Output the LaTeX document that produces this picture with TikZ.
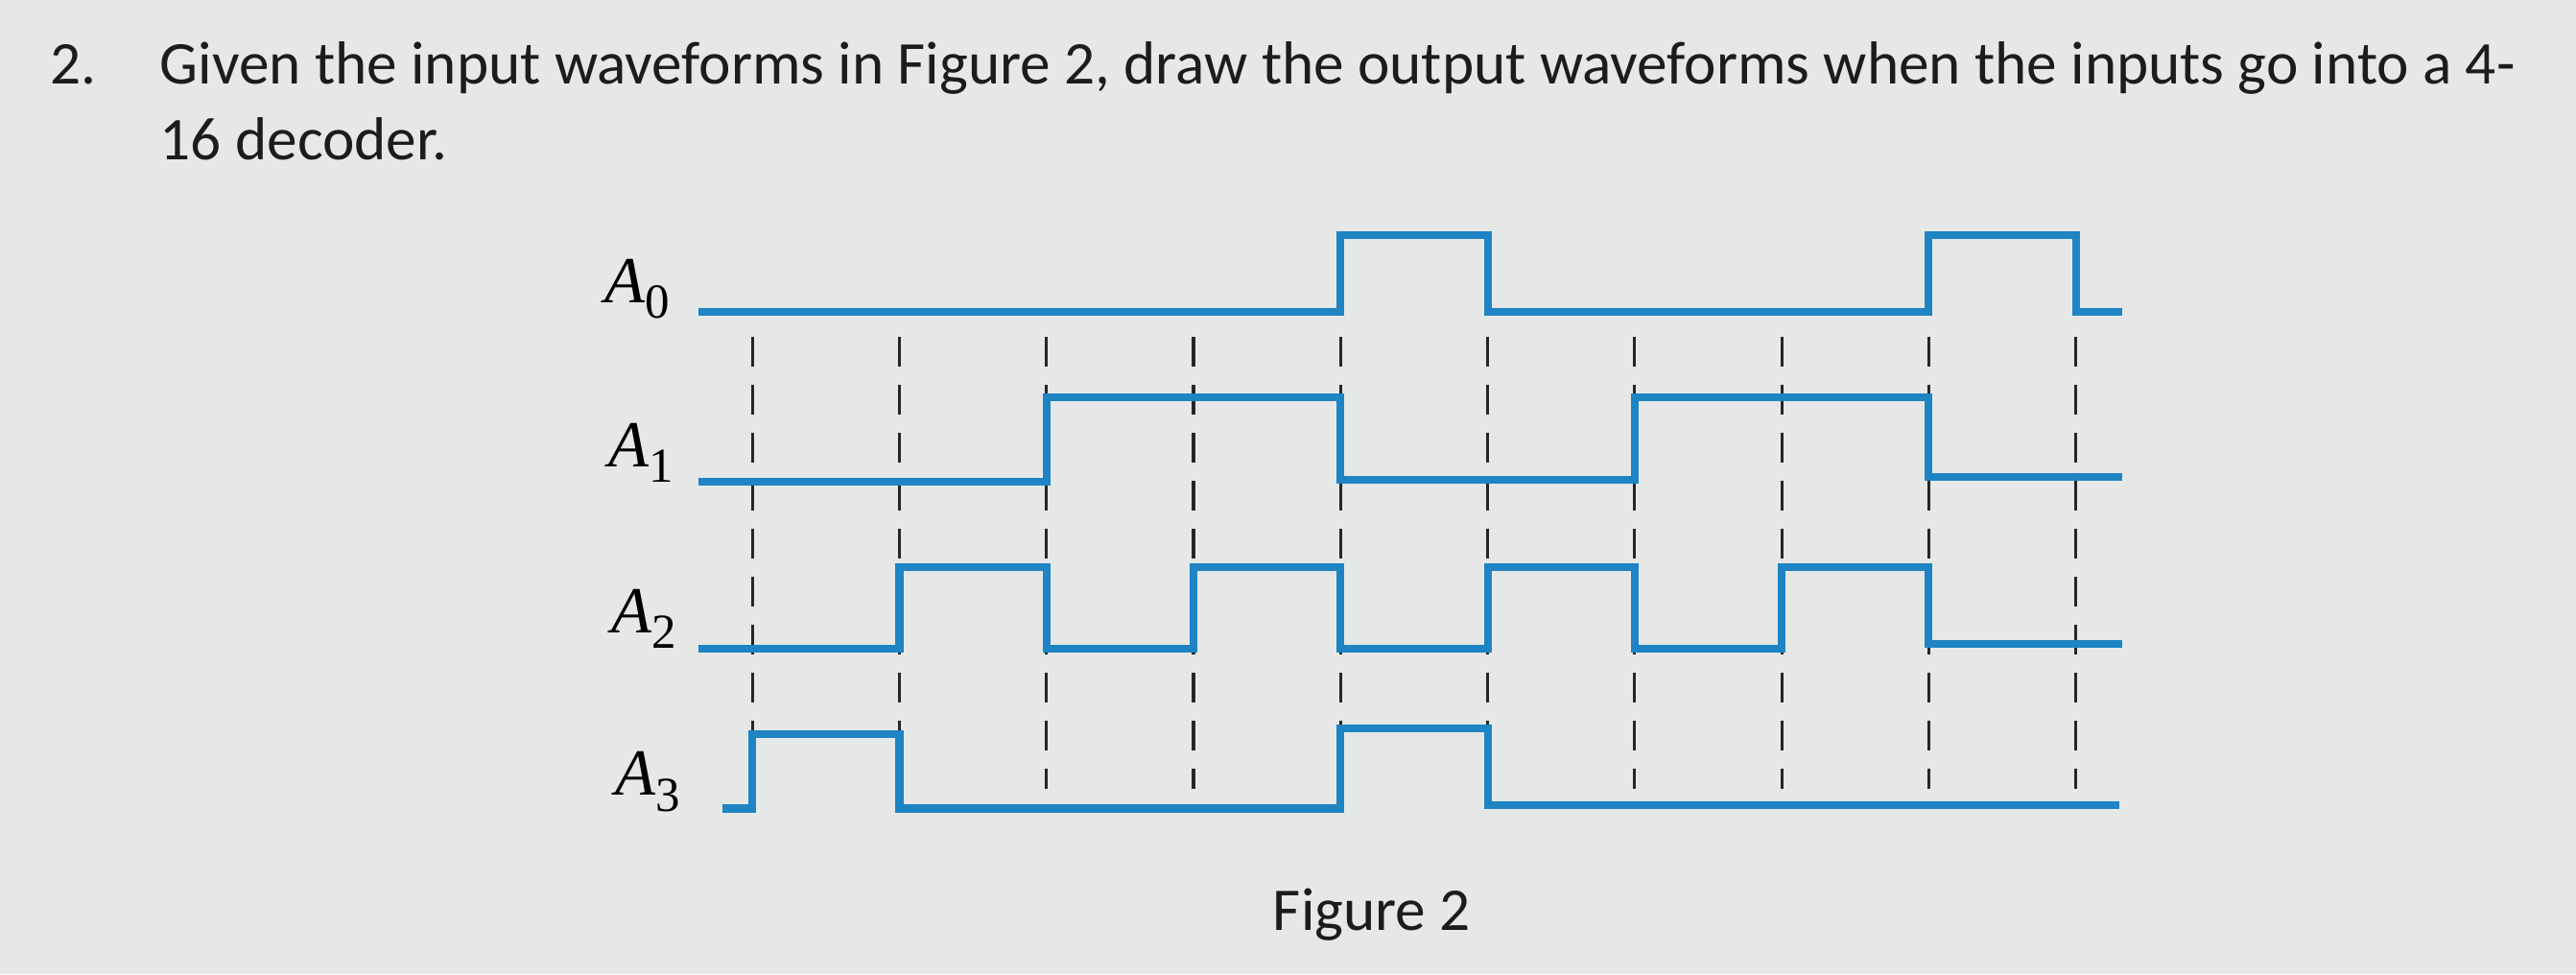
\documentclass[tikz,border=0pt]{standalone}
\usepackage{fontspec}
\setmainfont{Carlito}
\newfontfamily\timesf{Liberation Serif}
\definecolor{sigblue}{RGB}{30,132,196}
\definecolor{paper}{RGB}{229,232,231}
\definecolor{ink}{RGB}{28,28,28}
\newcommand\sigA[1]{{\timesf\itshape A}\raisebox{-0.5ex}{\timesf\fontsize{14.5}{14.5}\selectfont #1}}

\begin{document}
\begin{tikzpicture}[
        x=0.017124cm, y=-0.017124cm,
        sig/.style   ={draw=sigblue, line width=2.3pt},
        slot/.style  ={draw=black!85, line width=0.9pt, dash pattern=on 0.31cm off 0.19cm},
        lbl/.style   ={anchor=base west, inner sep=0pt, font=\fontsize{19.5}{19.5}\selectfont},
        txt/.style   ={anchor=base west, inner sep=0pt, text=ink, font=\fontsize{18}{21}\selectfont}
    ]
    %-----------------  Hoja de fondo  --------------------
    \fill[paper] (0,0) rectangle (1568,593);

    %-----------------  Enunciado  --------------------
    \node[txt] (qnum)   at (30,51)  {2.};
    \node[txt] (qline1) at (97,51)  {Given the input waveforms in Figure 2, draw the output waveforms when the inputs go into a 4-};
    \node[txt] (qline2) at (97,97)  {16 decoder.};

    %-----------------  Nombres de las entradas  --------------------
    \node[lbl] (lab0) at (368,184) {\sigA{0}};
    \node[lbl] (lab1) at (370,284) {\sigA{1}};
    \node[lbl] (lab2) at (372,385) {\sigA{2}};
    \node[lbl] (lab3) at (374,484) {\sigA{3}};

    %-----------------  Lineas de tiempo discontinuas  --------------------
    \foreach \i in {0,...,9}
        \draw[slot] (458+89.5*\i,205) -- (458+89.5*\i,480);

    %-----------------  Formas de onda  --------------------
    \draw[sig] (425,190) -| (816,143) -| (905.5,190) -| (1174,143) -| (1263.5,190) -- (1292,190);
    \draw[sig] (425,293) -| (637,242) -| (816,292) -| (995,242) -| (1174,290) -- (1292,290);
    \draw[sig] (425,395) -| (547.5,345) -| (637,395) -| (726.5,345) -| (816,395)
                         -| (905.5,345) -| (995,395) -| (1084.5,345) -| (1174,392) -- (1292,392);
    \draw[sig] (440,492) -| (458,447) -| (547.5,492) -| (816,443) -| (905.5,490) -- (1290,490);

    % Pie de figura
    \node[txt, anchor=base] (cap) at (835,566) {Figure 2};
\end{tikzpicture}
\end{document}
